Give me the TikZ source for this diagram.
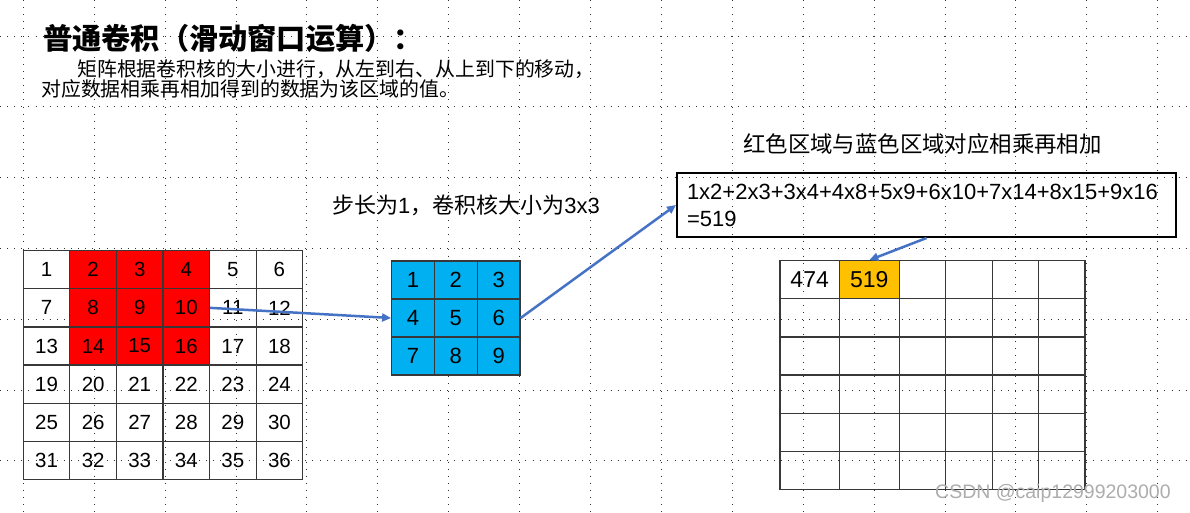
\documentclass[tikz,border=0pt]{standalone}
\usepackage{fontspec}
\setmainfont{Liberation Sans}
\newfontfamily\cjk{Noto Sans CJK SC}
\usetikzlibrary{arrows.meta}
\definecolor{kred}{HTML}{FF0000}
\definecolor{kblue}{HTML}{00B0F0}
\definecolor{korange}{HTML}{FFC000}
\definecolor{arrowblue}{HTML}{4472C4}
\definecolor{dotgray}{HTML}{303030}
\tikzset{
  gridline/.style={draw=dotgray, line width=1pt, dash pattern=on 1pt off 6.1pt},
  cellbase/.style={draw=black!78, line width=1.2pt, inner sep=0pt},
  lcell/.style={cellbase, minimum width=46.57pt, minimum height=38.1pt, font=\fontsize{20.5}{20.5}\selectfont},
  kcell/.style={cellbase, fill=kblue, minimum width=42.77pt, minimum height=38pt, font=\fontsize{22}{22}\selectfont},
  rcell/.style={cellbase, minimum height=38.1pt, font=\fontsize{23}{23}\selectfont},
  txt/.style={inner sep=0pt, anchor=west},
  conn/.style={draw=arrowblue, line width=2.5pt, -{Triangle[length=9pt,width=8pt]}}
}
\begin{document}
\begin{tikzpicture}[x=1pt, y=-1pt]
\useasboundingbox (0,0) rectangle (1190,512);
\fill[white] (0,0) rectangle (1190,512);
% background dotted grid
\foreach \k in {0,...,16}{\draw[gridline] (23.3+70.9*\k,0) -- (23.3+70.9*\k,512);}
\foreach \k in {0,...,6}{\draw[gridline] (0,36+70.8*\k) -- (1190,36+70.8*\k);}
% texts
\node[txt, font=\fontsize{29.2}{29.2}\selectfont\cjk\bfseries] (title) at (43,38) {普通卷积（滑动窗口运算）：};
\node[inner sep=0pt, anchor=north west, align=left, font=\fontsize{19.9}{19.8}\selectfont\cjk] (para) at (41,59.5)
  {\hspace*{36pt}矩阵根据卷积核的大小进行，从左到右、从上到下的移动，\\对应数据相乘再相加得到的数据为该区域的值。};
\node[txt, font=\fontsize{22}{22}\selectfont] (lab1) at (332,205) {{\cjk 步长为}1{\cjk ，卷积核大小为}3x3};
\node[txt, font=\fontsize{22.4}{22.4}\selectfont\cjk] (lab2) at (743,144) {红色区域与蓝色区域对应相乘再相加};
% left 6x6 matrix
\foreach \r in {1,...,6}{
  \foreach \c in {1,...,6}{
    \pgfmathtruncatemacro\n{(\r-1)*6+\c}
    \def\cf{none}
    \ifnum\r<4 \ifnum\c>1 \ifnum\c<5 \def\cf{kred}\fi\fi\fi
    \node[lcell, fill=\cf] (L-\r-\c) at (23.3+46.57*\c-23.285, 250.7+38.1*\r-19.05) {\n};
  }
}
% kernel 3x3
\foreach \r in {1,2,3}{
  \foreach \c in {1,2,3}{
    \pgfmathtruncatemacro\n{(\r-1)*3+\c}
    \node[kcell] (K-\r-\c) at (391.7+42.77*\c-21.385, 261+38*\r-19) {\n};
  }
}
% formula box
\node[draw, line width=2pt, minimum width=499pt, minimum height=64pt, inner xsep=10pt, inner ysep=0pt,
      text width=479pt, align=left, font=\fontsize{22}{27}\selectfont] (box) at (926.5,205)
  {1x2+2x3+3x4+4x8+5x9+6x10+7x14+8x15+9x16\\=519};
% result matrix
\foreach \r in {1,...,6}{
  \foreach \c/\xa/\xb in {1/780/839.3, 2/839.3/899.3, 3/899.3/945.3, 4/945.3/992.3, 5/992.3/1038.7, 6/1038.7/1085}{
    \pgfmathsetmacro\w{\xb-\xa}
    \pgfmathsetmacro\xc{(\xa+\xb)/2}
    \def\cf{none}\def\ct{}
    \ifnum\r=1 \ifnum\c=1 \def\ct{474}\fi \ifnum\c=2 \def\cf{korange}\def\ct{519}\fi\fi
    \node[rcell, fill=\cf, minimum width=\w pt] (R-\r-\c) at (\xc, 260.7+38.1*\r-19.05) {\ct};
  }
}
% connectors
\draw[conn] (L-2-4.east) -- (K-2-1.west);
\draw[conn] (K-2-3.east) -- (box.west);
\draw[conn] (box.south) -- (R-1-2.north);
% watermark
\node[txt, text=black!32, font=\fontsize{19.5}{19.5}\selectfont] (wm) at (935,493) {CSDN @caip12999203000};
\end{tikzpicture}
\end{document}
